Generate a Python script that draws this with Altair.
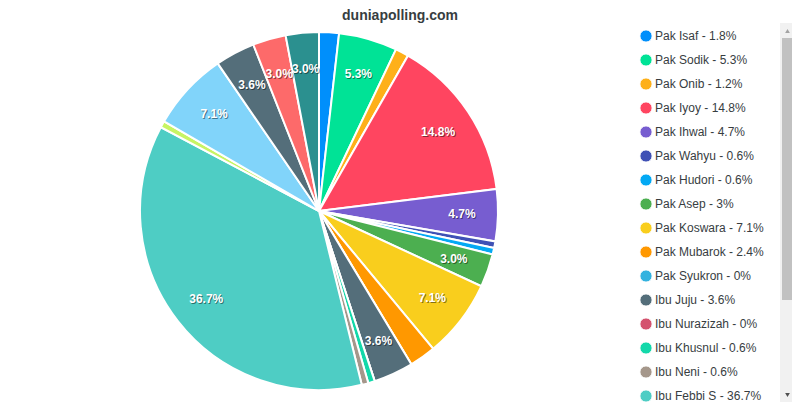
import altair as alt
import pandas as pd

# Slices (clockwise from 12 o'clock)
names = ["Pak Isaf", "Pak Sodik", "Pak Onib", "Pak Iyoy", "Pak Ihwal", "Pak Wahyu",
         "Pak Hudori", "Pak Asep", "Pak Koswara", "Pak Mubarok", "Pak Syukron",
         "Ibu Juju", "Ibu Nurazizah", "Ibu Khusnul", "Ibu Neni", "Ibu Febbi S",
         "Lainnya 1", "Lainnya 2", "Lainnya 3", "Lainnya 4", "Lainnya 5"]
values = [1.8, 5.3, 1.2, 14.8, 4.7, 0.6, 0.6, 3.0, 7.1, 2.4, 0.0,
          3.6, 0.0, 0.6, 0.6, 36.7, 0.6, 7.1, 3.6, 3.0, 3.0]
legend_texts = ["1.8%", "5.3%", "1.2%", "14.8%", "4.7%", "0.6%", "0.6%", "3%", "7.1%",
                "2.4%", "0%", "3.6%", "0%", "0.6%", "0.6%", "36.7%"]
colors = ["#008FFB", "#00E396", "#FEB019", "#FF4560", "#775DD0", "#3F51B5", "#03A9F4",
          "#4CAF50", "#F9CE1D", "#FF9800", "#33B2DF", "#546E7A", "#D4526E", "#13D8AA",
          "#A5978B", "#4ECDC4", "#C7F464", "#81D4FA", "#546E7A", "#FD6A6A", "#2B908F"]

df = pd.DataFrame({
    "idx": list(range(len(names))),
    "name": names,
    "value": values,
    "color": colors,
})
df["label"] = [f"{v:.1f}%" if v >= 3 else "" for v in values]

leg = pd.DataFrame({
    "idx": list(range(len(legend_texts))),
    "text": [f"{n} - {t}" for n, t in zip(names[:16], legend_texts)],
    "color": colors[:16],
})

CX, CY, R = 311, 203, 179

base = alt.Chart(df).encode(
    theta=alt.Theta("value:Q", stack=True),
    order=alt.Order("idx:Q"),
)

arcs = base.mark_arc(outerRadius=R, stroke="white", strokeWidth=2).encode(
    color=alt.Color("color:N", scale=None),
    x=alt.value(CX), y=alt.value(CY),
)

shadow = base.mark_text(radius=143, font="Helvetica", fontSize=12, fontWeight="bold",
                        color="#000000", opacity=0.45, dx=1, dy=1).encode(
    text="label:N", x=alt.value(CX), y=alt.value(CY))
labels = base.mark_text(radius=143, font="Helvetica", fontSize=12, fontWeight="bold",
                        color="white").encode(
    text="label:N", x=alt.value(CX), y=alt.value(CY))

ly = alt.Y("idx:Q", scale=alt.Scale(domain=[0, 15], range=[28, 388]), axis=None)
legc = alt.Chart(leg)
markers = legc.mark_circle(size=150, opacity=1, stroke="white", strokeWidth=1).encode(
    x=alt.value(638), y=ly, color=alt.Color("color:N", scale=None))
ltext = legc.mark_text(align="left", baseline="middle", font="Helvetica", fontSize=12,
                       color="#373d3f").encode(
    x=alt.value(647), y=ly, text="text:N")

title_df = pd.DataFrame({"t": ["duniapolling.com"]})
title = alt.Chart(title_df).mark_text(font="Helvetica", fontSize=14, fontWeight="bold",
                                      color="#373d3f", baseline="top").encode(
    x=alt.value(392), y=alt.value(1), text="t:N")

sb = pd.DataFrame({"k": ["track", "thumb"]})
track = alt.Chart(sb).transform_filter("datum.k == 'track'").mark_rect(color="#f1f1f1").encode(
    x=alt.value(772), x2=alt.value(787), y=alt.value(15), y2=alt.value(394))
thumb = alt.Chart(sb).transform_filter("datum.k == 'thumb'").mark_rect(color="#c1c1c1").encode(
    x=alt.value(774), x2=alt.value(785), y=alt.value(30), y2=alt.value(292))
arr = pd.DataFrame({"s": ["triangle-up", "triangle-down"]})
up = alt.Chart(arr).transform_filter("datum.s == 'triangle-up'").mark_point(
    shape="triangle-up", filled=True, color="#a3a3a3", size=22, opacity=1).encode(
    x=alt.value(779.5), y=alt.value(23))
down = alt.Chart(arr).transform_filter("datum.s == 'triangle-down'").mark_point(
    shape="triangle-down", filled=True, color="#505050", size=22, opacity=1).encode(
    x=alt.value(779.5), y=alt.value(387))

chart = alt.layer(arcs, shadow, labels, markers, ltext, title, track, thumb, up, down).properties(
    width=784, height=396, padding=0, autosize=alt.AutoSizeParams(type="none")
).configure_view(stroke=None)

chart.save("out.html", embed_options={"renderer": "svg", "actions": False})
